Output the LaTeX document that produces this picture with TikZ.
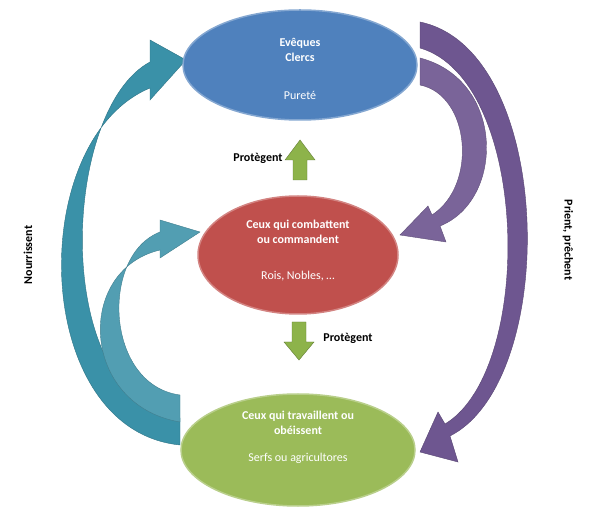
\documentclass[tikz,border=0pt]{standalone}
\usepackage{fontspec}
\setmainfont{Carlito}
\usetikzlibrary{shapes.geometric,shadows}
\begin{document}
\begin{tikzpicture}[x=1pt,y=-1pt,
  ell/.style={ellipse,draw=#1!70!white,line width=1.5pt,fill=#1,text=white,align=center,inner sep=0pt},
  lbl/.style={font=\fontsize{12}{15}\selectfont\bfseries,align=center},
  txt/.style={font=\fontsize{12}{15}\selectfont,text=white},
  band/.style={fill=#1,draw=#1!80!black,line width=0.4pt},
  small/.style={fill=sgreen,draw=sgreen!70!black,line width=0.4pt}]
\useasboundingbox (0,0) rectangle (600,510);
\definecolor{cblue}{HTML}{4F81BD}
\definecolor{cred}{HTML}{C0504D}
\definecolor{cgreen}{HTML}{9BBB59}
\definecolor{cteal}{HTML}{3A91A8}
\definecolor{cpurp}{HTML}{6E5690}
\definecolor{sgreen}{HTML}{8DB34A}
% bands
\path[band=cteal] (180,445) .. controls (30,430) and (25,140) .. (150,88) -- (150,100) -- (186,60) -- (150,40) -- (150,62) .. controls (60,110) and (50,400) .. (180,418) -- cycle;
\path[band=cteal!88!white] (180,422) .. controls (80,405) and (75,270) .. (160,250) -- (160,258) -- (200,232) -- (160,220) -- (160,232) .. controls (100,255) and (105,385) .. (180,395) -- cycle;
\path[band=cpurp] (420,22) .. controls (555,50) and (560,380) .. (450,436) -- (458,462) -- (420,452) -- (438,412) -- (445,424) .. controls (535,370) and (530,80) .. (420,48) -- cycle;
\path[band=cpurp!92!white] (420,58) .. controls (505,80) and (505,200) .. (440,226) -- (446,242) -- (400,235) -- (428,206) -- (432,215) .. controls (478,185) and (470,95) .. (420,85) -- cycle;
% ellipses
\node[ell=cblue,minimum width=234pt,minimum height=110pt] (top) at (300,65) {};
\node[ell=cred,minimum width=200pt,minimum height=118pt] (mid) at (298,255) {};
\node[ell=cgreen,minimum width=234pt,minimum height=112pt] (bot) at (298,450) {};
\node[text=white,lbl] (t1) at (300,50) {Evêques\\Clercs};
\node[txt] (t2) at (300,95) {Pureté};
\node[text=white,lbl] (m1) at (298,232) {Ceux qui combattent\\ou commandent};
\node[txt] (m2) at (298,276) {Rois, Nobles, …};
\node[text=white,lbl] (b1) at (298,423) {Ceux qui travaillent ou\\obéissent};
\node[txt] (b2) at (298,458) {Serfs ou agricultores};
% small arrows
\path[small] (293,180) -- (293,160) -- (285,160) -- (300,140) -- (315,160) -- (307,160) -- (307,180) -- cycle;
\path[small] (292,322) -- (292,342) -- (284,342) -- (299,360) -- (314,342) -- (306,342) -- (306,322) -- cycle;
\node[lbl] (p1) at (258,158) {Protègent};
\node[lbl] (p2) at (348,338) {Protègent};
\node[lbl,rotate=90] (n) at (28,255) {Nourrissent};
\node[lbl,rotate=-90] (pp) at (568,240) {Prient, prêchent};
\end{tikzpicture}
\end{document}
